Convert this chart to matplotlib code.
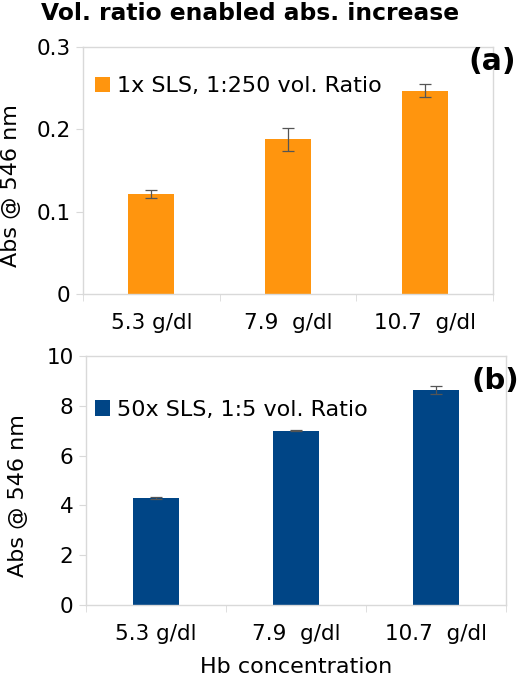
import matplotlib
matplotlib.use("Agg")
import matplotlib.pyplot as plt
import numpy as np

categories = ["5.3 g/dl", "7.9  g/dl", "10.7  g/dl"]
abs_1x = [0.121, 0.188, 0.247]
err_1x = [0.005, 0.014, 0.008]
abs_50x = [4.30, 7.00, 8.64]
err_50x = [0.03, 0.02, 0.15]
yticks_a = [0, 0.1, 0.2, 0.3]
yticklabels_a = ["0", "0.1", "0.2", "0.3"]
yticks_b = [0, 2, 4, 6, 8, 10]
label_a = "1x SLS, 1:250 vol. Ratio"
label_b = "50x SLS, 1:5 vol. Ratio"

plt.rcParams["font.family"] = ["DejaVu Sans"]

W, H = 520, 676
fig = plt.figure(figsize=(W / 100, H / 100), dpi=100)

def px_axes(l, t, r, b):
    return fig.add_axes([l / W, 1 - b / H, (r - l) / W, (b - t) / H])

ax1 = px_axes(83, 47, 493, 294)
ax2 = px_axes(86, 356, 506, 605)

spine_col = "#d9d9d9"
x = np.arange(len(categories))

def style(ax, vals, errs, color, ylim, yticks, yticklabels, label, leg_xy):
    ax.bar(x, vals, width=0.335, color=color, label=label, zorder=2)
    ax.errorbar(x, vals, yerr=errs, fmt="none", ecolor="#555555",
                elinewidth=0.9, capsize=4, capthick=0.9, zorder=3)
    ax.set_xlim(-0.5, 2.5)
    ax.set_ylim(*ylim)
    ax.set_yticks(yticks)
    ax.set_yticklabels(yticklabels, fontsize=15.5)
    ax.set_xticks(x)
    ax.set_xticklabels(categories, fontsize=15.5)
    ax.set_xticks([-0.5, 0.5, 1.5, 2.5], minor=True)
    ax.tick_params(axis="x", which="major", length=0, pad=14)
    ax.tick_params(axis="x", which="minor", length=5, color=spine_col)
    ax.tick_params(axis="y", length=5, color=spine_col, pad=4)
    for s in ax.spines.values():
        s.set_color(spine_col)
        s.set_linewidth(1)
    ax.set_ylabel("Abs @ 546 nm", fontsize=16)
    ax.legend(loc="center left", bbox_to_anchor=leg_xy, frameon=False,
              fontsize=16, handlelength=0.68, handleheight=0.68,
              handletextpad=0.3, borderpad=0, borderaxespad=0)

style(ax1, abs_1x, err_1x, "#ff950e", (0, 0.3), yticks_a, yticklabels_a,
      label_a, (0.029, 0.842))
style(ax2, abs_50x, err_50x, "#004586", (0, 10), yticks_b,
      [str(v) for v in yticks_b], label_b, (0.021, 0.784))

ax1.yaxis.set_label_coords(-0.150, 0.44)
ax2.yaxis.set_label_coords(-0.137, 0.44)
ax2.set_xlabel("Hb concentration", fontsize=16, labelpad=9)

fig.text(250 / W, 1 - 14 / H, "Vol. ratio enabled abs. increase",
         fontsize=16.8, fontweight="bold", ha="center", va="center")
fig.text(492 / W, 1 - 61 / H, "(a)", fontsize=21.5, fontweight="bold",
         ha="center", va="center")
fig.text(495 / W, 1 - 381 / H, "(b)", fontsize=21, fontweight="bold",
         ha="center", va="center")

fig.savefig("out.png", dpi=100)
